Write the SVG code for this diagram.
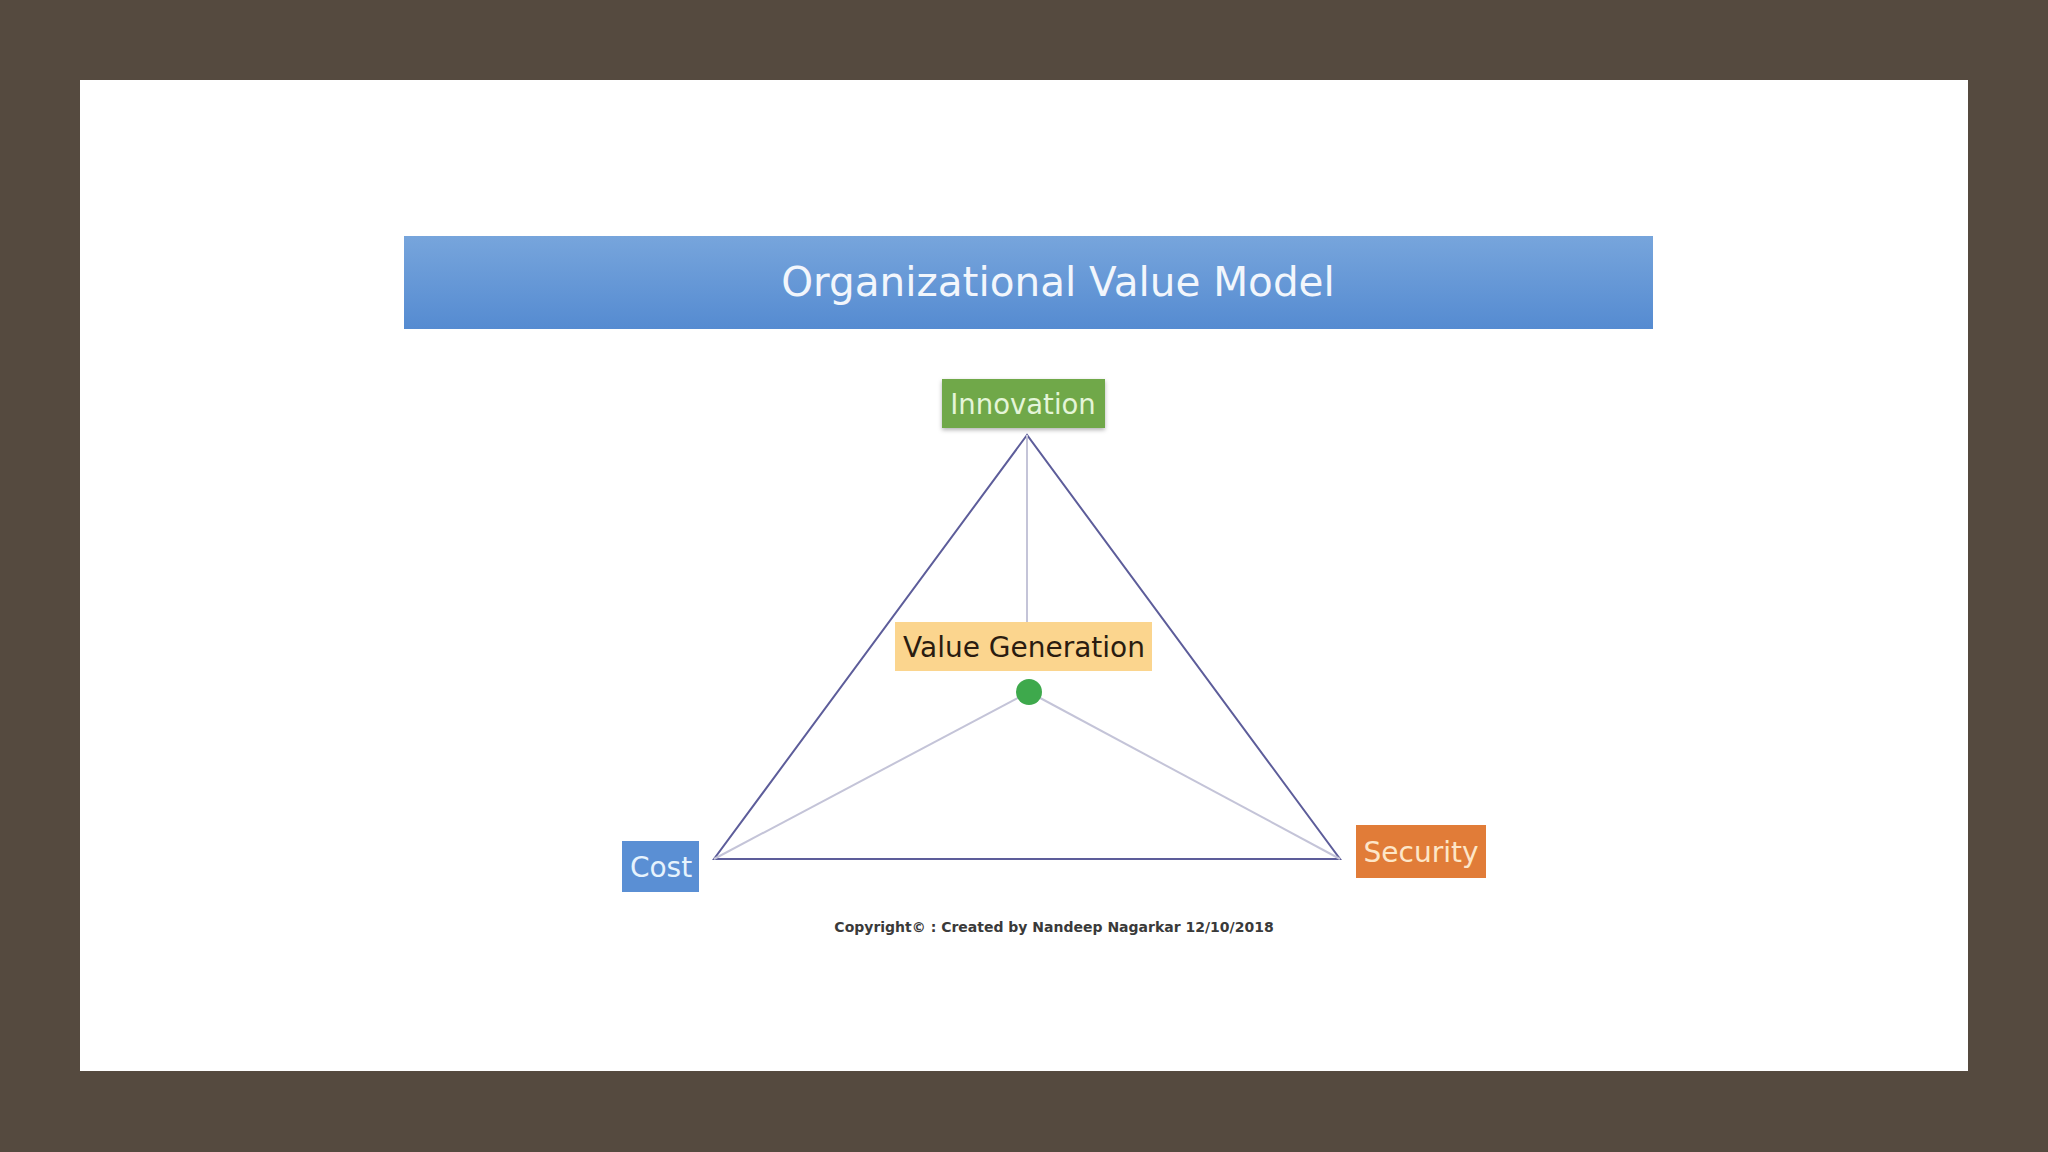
<svg xmlns="http://www.w3.org/2000/svg" width="2048" height="1152" viewBox="0 0 2048 1152">
<defs>
<linearGradient id="tg" x1="0" y1="0" x2="0" y2="1">
<stop offset="0" stop-color="#77a5dc"/>
<stop offset="1" stop-color="#558bd1"/>
</linearGradient>
<filter id="sh" x="-10%" y="-20%" width="120%" height="150%">
<feDropShadow dx="0" dy="2" stdDeviation="2" flood-color="#000" flood-opacity="0.3"/>
</filter>
</defs>
<style>
.lbl{font-family:"DejaVu Sans","Liberation Sans",sans-serif;text-anchor:middle}
.outer{stroke:#5d5d9a;stroke-width:2;fill:none}
.inner{stroke:#c4c4d8;stroke-width:2;fill:none}
</style>
<rect x="0" y="0" width="2048" height="1152" fill="#554a3f"/>
<rect x="80" y="80" width="1888" height="991" fill="#ffffff"/>
<g id="title">
<rect x="404" y="236" width="1249" height="93" fill="url(#tg)"/>
<text class="lbl" x="1058" y="296" font-size="40.5" fill="#f2f6fc">Organizational Value Model</text>
</g>
<g id="connectors">
<polygon class="outer" points="1027,435 714,859 1340,859"/>
<line class="inner" x1="1027" y1="435" x2="1027" y2="622"/>
<line class="inner" x1="1029" y1="692" x2="714" y2="859"/>
<line class="inner" x1="1029" y1="692" x2="1340" y2="859"/>
</g>
<g id="innovation">
<rect x="942" y="379" width="163" height="49" fill="#6fa84a" filter="url(#sh)"/>
<text class="lbl" x="1023" y="414" font-size="27.5" fill="#e4f5d8">Innovation</text>
</g>
<g id="value-generation">
<rect x="895" y="622" width="257" height="49" fill="#fbd58e"/>
<text class="lbl" x="1024" y="657" font-size="28" fill="#2a1c10">Value Generation</text>
<circle cx="1029" cy="692" r="13" fill="#3ea94c"/>
</g>
<g id="cost">
<rect x="622" y="841" width="77" height="51" fill="#5a8fd4"/>
<text class="lbl" x="661" y="877" font-size="28" fill="#e6f3fd">Cost</text>
</g>
<g id="security">
<rect x="1356" y="825" width="130" height="53" fill="#e17c38"/>
<text class="lbl" x="1421" y="862" font-size="28" fill="#fde6c8">Security</text>
</g>
<g id="copyright">
<text class="lbl" x="1054" y="932" font-size="14" font-weight="bold" fill="#3a3a3a">Copyright© : Created by Nandeep Nagarkar 12/10/2018</text>
</g>
</svg>
